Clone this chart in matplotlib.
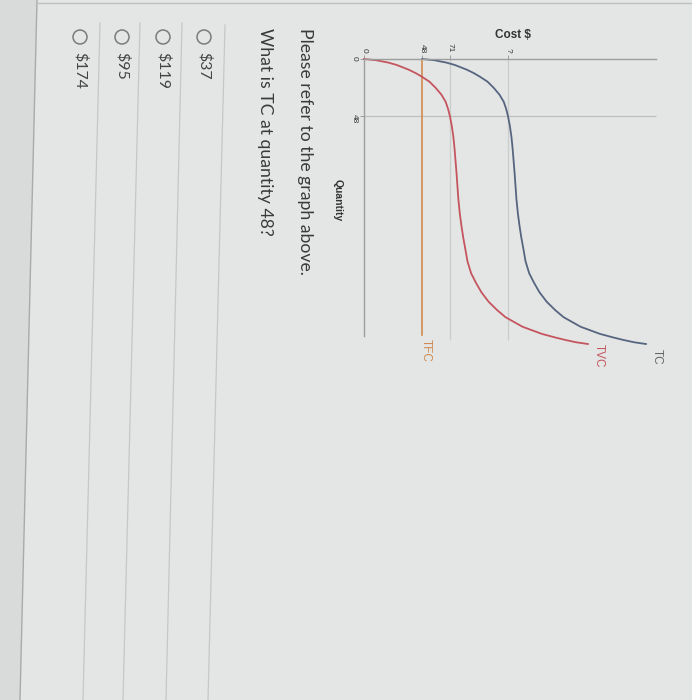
import matplotlib.pyplot as plt
from matplotlib.lines import Line2D
from matplotlib.patches import Ellipse, Polygon

# cost curves (quantity -> cost $)
quantity = [0, 1, 3, 5, 9, 12, 15, 19, 24, 30, 36, 42, 48, 56, 65, 75, 85, 95,
            105, 118, 130, 140, 150, 160, 170, 180, 188, 196, 204, 211, 217,
            221, 225, 228, 231, 234, 236, 238, 239.5]
tvc = [0, 10, 20, 27, 37, 43, 48, 54, 59, 64, 67.5, 69.5, 71, 72.5, 73.8, 74.8,
       75.6, 76.4, 77.1, 78, 79.2, 80.5, 82, 83.8, 85.5, 88.5, 92.5, 97, 103,
       110, 117, 124, 131, 139, 147, 158, 166, 175, 185]
tc = [48, 58, 68, 75, 85, 91, 96, 102, 107, 112, 115.5, 117.5, 119, 120.5,
      121.8, 122.8, 123.6, 124.4, 125.1, 126, 127.2, 128.5, 130, 131.8, 133.5,
      136.5, 140.5, 145, 151, 158, 165, 172, 179, 187, 195, 206, 214, 223, 233]
tfc_q = [0, 232]
tfc = [48, 48]

cost_ticks = [0, 48, 71, 119]
cost_labels = ['0', '48', '71', '?']
qty_ticks = [0, 48]
qty_labels = ['0', '48']

question = ['Please refer to the graph above.', 'What is TC at quantity 48?']
options = ['$37', '$119', '$95', '$174']

W, H = 692, 700
bg = '#e4e6e5'


def fx(x):
    return x / W


def fy(y):
    return 1 - y / H


fig = plt.figure(figsize=(W / 100, H / 100), dpi=100)
fig.patch.set_facecolor(bg)

# darker strip outside the page + page border lines
fig.add_artist(Polygon([(0, 1), (fx(37), 1), (fx(20), 0), (0, 0)],
                       closed=True, transform=fig.transFigure,
                       facecolor='#d9dbda', edgecolor='none'))
fig.add_artist(Line2D([fx(37), fx(20)], [fy(0), fy(700)], color='#a9abab', lw=1.0))
fig.add_artist(Line2D([fx(37), fx(692)], [fy(3), fy(3)], color='#bfc1c1', lw=1.0))
for xt, xb, yt in [(225, 208, 25), (182, 166, 23), (140, 123, 23), (100, 83, 23)]:
    fig.add_artist(Line2D([fx(xt), fx(xb)], [fy(yt), fy(700)], color='#c6c8c8', lw=0.9))

# chart: cost runs to the right, quantity runs down (page is turned)
x0, sx = 364, 1.21
y0, sy = 59, 1.19
xlim = (-20, 262)
ylim = (262, -30)
left = (x0 + sx * xlim[0]) / W
right = (x0 + sx * xlim[1]) / W
top_px = y0 + sy * ylim[1]
bot_px = y0 + sy * ylim[0]
ax = fig.add_axes([left, 1 - bot_px / H, right - left, (bot_px - top_px) / H])
ax.set_xlim(xlim)
ax.set_ylim(ylim)
ax.patch.set_alpha(0)

for s in ['right', 'bottom']:
    ax.spines[s].set_visible(False)
ax.spines['top'].set_position(('data', 0))
ax.spines['top'].set_bounds(0, 241)
ax.spines['left'].set_position(('data', 0))
ax.spines['left'].set_bounds(0, 233)
for s in ['top', 'left']:
    ax.spines[s].set_color('#9c9e9e')
    ax.spines[s].set_linewidth(1.0)

ax.xaxis.set_ticks_position('top')
ax.set_xticks(cost_ticks)
ax.set_xticklabels(cost_labels)
ax.set_yticks(qty_ticks)
ax.set_yticklabels(qty_labels)
ax.tick_params(axis='both', direction='out', length=3, width=0.7,
               color='#9c9e9e', labelcolor='#333333', labelsize=6,
               labelrotation=-90, pad=1.5)
for lab in ax.get_xticklabels() + ax.get_yticklabels():
    lab.set_family('Liberation Sans')

ax.vlines([71, 119], 0, 236, color='#cbcdcd', lw=0.9)
ax.hlines(48, 0, 241, color='#bdbfbf', lw=0.9)

ax.plot(tfc, tfc_q, color='#d08a50', lw=1.2)
ax.plot(tvc, quantity, color='#c4555f', lw=1.3, solid_joinstyle='round')
ax.plot(tc, quantity, color='#56657f', lw=1.3, solid_joinstyle='round')

lbl = dict(rotation=-90, ha='center', va='center', fontsize=8.5,
           family='Liberation Sans')
ax.text(242, 250, 'TC', color='#666666', **lbl)
ax.text(194, 249, 'TVC', color='#c4555f', **lbl)
ax.text(51, 244.5, 'TFC', color='#d08a50', **lbl)

ax.text(123, -20, 'Cost $', ha='center', va='center', fontsize=8.5,
        fontweight='bold', family='Liberation Sans', color='#333333')
ax.text(-22, 118.5, 'Quantity', rotation=-90, ha='center', va='center',
        fontsize=7.5, fontweight='bold', family='Liberation Sans', color='#333333')

# question and answer options
fig.text(fx(305), fy(28), question[0], rotation=-90, ha='center', va='top',
         fontsize=12.7, family='Lato', color='#3a3a3a')
fig.text(fx(265), fy(28), question[1], rotation=-90, ha='center', va='top',
         fontsize=12.7, family='Lato', color='#3a3a3a')

for xc, opt in zip([204, 163, 122, 80], options):
    fig.add_artist(Ellipse((fx(xc), fy(37)), 14 / W, 14 / H,
                           transform=fig.transFigure, facecolor='none',
                           edgecolor='#7a7c7c', lw=1.1))
    fig.text(fx(xc), fy(52), opt, rotation=-90, ha='center', va='top',
             fontsize=11.4, family='Lato', color='#444444')

fig.savefig('out.png', dpi=100, facecolor=fig.get_facecolor())
